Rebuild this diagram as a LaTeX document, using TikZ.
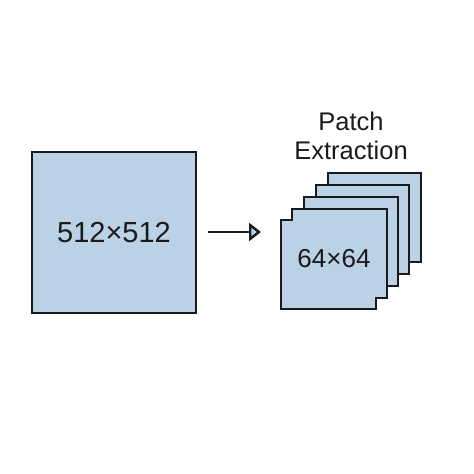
\documentclass[tikz,border=0pt]{standalone}
\usepackage{fontspec}
\setmainfont{Liberation Sans}
\usetikzlibrary{arrows.meta}
\definecolor{patchblue}{HTML}{BBD1E6}
\definecolor{edgeblack}{HTML}{1A1A1A}
\tikzset{
  tile/.style={draw=edgeblack, fill=patchblue, line width=2.6bp, line join=miter},
  conn/.style={draw=edgeblack, line width=2.6bp, -{Triangle[length=12bp, width=18bp, fill=patchblue, line width=2.4bp]}},
  lbl/.style={text=edgeblack, inner sep=0pt}
}
\begin{document}
\begin{tikzpicture}[x=1bp, y=-1bp]
\useasboundingbox (0,0) rectangle (474,474);
\fill[white] (0,0) rectangle (474,474);
% big image
\draw[tile] (32,152) rectangle (196,313);
\node[lbl, font=\fontsize{29bp}{34bp}\selectfont] (big) at (114,232.5) {512×512};
% patch stack
\draw[tile] (328,173) rectangle (421,262);
\draw[tile] (316,185) rectangle (409,274);
\draw[tile] (304,197) rectangle (398,286);
\draw[tile] (281,220) -- (292,220) -- (292,209) -- (387,209) -- (387,298) -- (376,298) -- (376,309) -- (281,309) -- cycle;
\node[lbl, font=\fontsize{26bp}{30bp}\selectfont] (patch) at (334,259) {64×64};
\node[lbl, font=\fontsize{25.5bp}{28.5bp}\selectfont, align=center] (title) at (351,136) {Patch\\Extraction};
% arrow
\coordinate (a1) at (208,232);
\coordinate (a2) at (261,232);
\draw[conn] (a1) -- (a2);
\end{tikzpicture}
\end{document}
